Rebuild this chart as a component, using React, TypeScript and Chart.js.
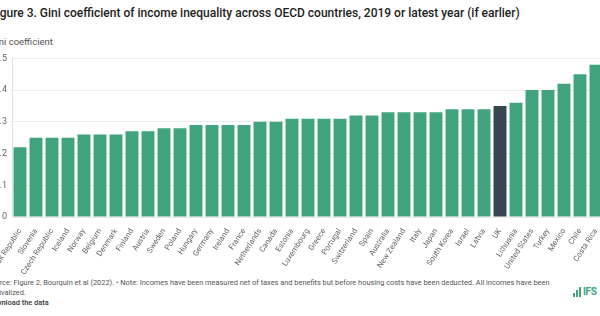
import React, { useEffect, useRef } from "react";
import { Chart, registerables } from "chart.js";

Chart.register(...registerables);

const countries = [
  "Slovak Republic", "Slovenia", "Czech Republic", "Iceland", "Norway", "Belgium",
  "Denmark", "Finland", "Austria", "Sweden", "Poland", "Hungary", "Germany",
  "Ireland", "France", "Netherlands", "Canada", "Estonia", "Luxembourg", "Greece",
  "Portugal", "Switzerland", "Spain", "Australia", "New Zealand", "Italy", "Japan",
  "South Korea", "Israel", "Latvia", "UK", "Lithuania", "United States", "Turkey",
  "Mexico", "Chile", "Costa Rica",
];

const gini = [
  0.22, 0.25, 0.25, 0.25, 0.26, 0.26,
  0.26, 0.27, 0.27, 0.28, 0.28, 0.29, 0.29,
  0.29, 0.29, 0.30, 0.30, 0.31, 0.31, 0.31,
  0.31, 0.32, 0.32, 0.33, 0.33, 0.33, 0.33,
  0.34, 0.34, 0.34, 0.35, 0.36, 0.40, 0.40,
  0.42, 0.45, 0.48,
];

const highlighted = ["UK"];

const yTicks = [0, 0.1, 0.2, 0.3, 0.4, 0.5];

const GREEN = "#42a47e";
const SLATE = "#37474f";

export default function App() {
  const canvasRef = useRef<HTMLCanvasElement | null>(null);

  useEffect(() => {
    const canvas = canvasRef.current;
    if (!canvas) return;
    const chart = new Chart(canvas, {
      type: "bar",
      data: {
        labels: countries,
        datasets: [
          {
            label: "Gini coefficient",
            data: gini,
            backgroundColor: countries.map((c) => (highlighted.includes(c) ? SLATE : GREEN)),
            borderWidth: 0,
            categoryPercentage: 1,
            barPercentage: 0.81,
          },
        ],
      },
      options: {
        responsive: false,
        animation: false,
        layout: { padding: { top: 6, right: 6, left: 0, bottom: 0 } },
        plugins: {
          legend: { display: false },
          tooltip: { enabled: false },
        },
        scales: {
          x: {
            grid: { display: false },
            border: { display: false },
            ticks: {
              autoSkip: false,
              minRotation: 57,
              maxRotation: 57,
              padding: 2,
              color: "#666",
              font: { family: "Roboto", size: 7.8 },
            },
            afterFit: (scale: any) => {
              scale.height = 58;
            },
          },
          y: {
            min: 0,
            max: 0.5,
            afterBuildTicks: (scale: any) => {
              scale.ticks = yTicks.map((v) => ({ value: v }));
            },
            grid: { color: "#ececec", drawTicks: false },
            border: { display: true, color: "#e2e2e2" },
            ticks: {
              padding: 5,
              color: "#666",
              font: { family: "Roboto", size: 9 },
              callback: (v: any) => String(Math.round(Number(v) * 10) / 10),
            },
            afterFit: (scale: any) => {
              scale.width = 42;
            },
          },
        },
      },
    });
    return () => chart.destroy();
  }, []);

  return (
    <div
      style={{
        position: "fixed",
        left: 0,
        top: 0,
        width: 600,
        height: 316,
        overflow: "hidden",
        background: "#fff",
        fontFamily: "Roboto, sans-serif",
      }}
    >
      <div
        style={{
          position: "absolute",
          left: -10,
          top: 4,
          whiteSpace: "nowrap",
          fontSize: 12,
          lineHeight: "18px",
          fontWeight: 500,
          color: "#222",
        }}
      >
        Figure 3. Gini coefficient of income inequality across OECD countries, 2019 or latest year (if earlier)
      </div>
      <div
        style={{
          position: "absolute",
          left: -10,
          top: 35,
          whiteSpace: "nowrap",
          fontSize: 9.5,
          lineHeight: "14px",
          color: "#555",
        }}
      >
        Gini coefficient
      </div>
      <canvas
        ref={canvasRef}
        width={640}
        height={227}
        style={{ position: "absolute", left: -30, top: 48, width: 640, height: 227 }}
      />
      <div
        style={{
          position: "absolute",
          left: -13,
          top: 278,
          width: 578,
          fontSize: 7.4,
          lineHeight: "10px",
          color: "#555",
        }}
      >
        Source: Figure 2, Bourquin et al (2022). • Note: Incomes have been measured net of taxes and benefits but before housing costs have been deducted. All incomes have been equivalized.
        <div style={{ fontWeight: 500, color: "#333" }}>Download the data</div>
      </div>
      <div
        style={{
          position: "absolute",
          left: 573,
          top: 285,
          display: "flex",
          alignItems: "flex-end",
          height: 12,
          color: GREEN,
        }}
      >
        <span style={{ width: 2, height: 4, background: GREEN, marginRight: 1 }} />
        <span style={{ width: 2, height: 7, background: GREEN, marginRight: 1 }} />
        <span style={{ width: 2, height: 10, background: GREEN, marginRight: 2 }} />
        <span style={{ fontSize: 10, lineHeight: "10px", fontWeight: 700, letterSpacing: -0.3 }}>IFS</span>
      </div>
    </div>
  );
}
